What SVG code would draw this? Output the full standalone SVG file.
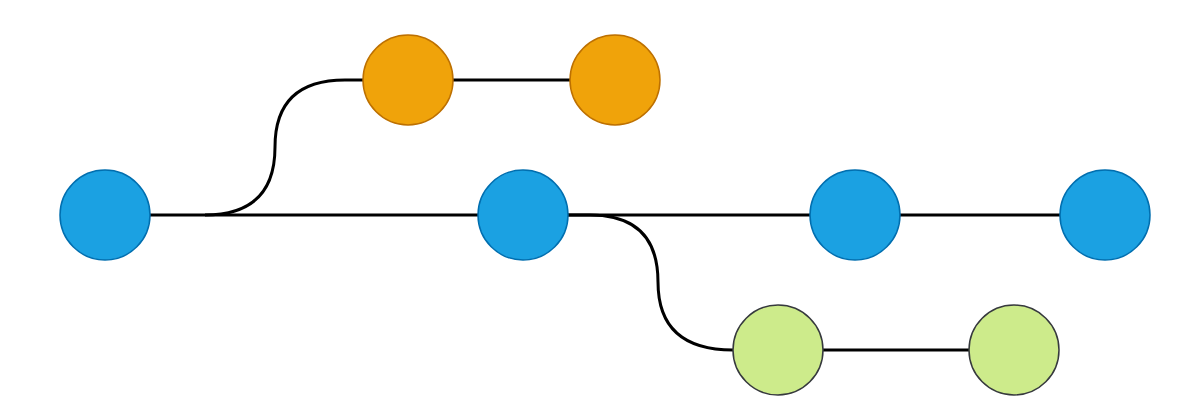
<svg xmlns="http://www.w3.org/2000/svg" width="1200" height="416" viewBox="0 0 1200 416">
<style>
.e{fill:none;stroke:#000;stroke-width:3}
.b{fill:#1ba1e2;stroke:#006eaf;stroke-width:1.5}
.o{fill:#f0a30a;stroke:#bd7000;stroke-width:1.5}
.g{fill:#cdeb8b;stroke:#36393d;stroke-width:1.5}
</style>
<rect width="1200" height="416" fill="#fff"/>
<g id="connectors">
<path class="e" d="M150,215 H1060"/>
<path class="e" d="M205,215 Q275,215 275,147 Q275,80 345,80 H570"/>
<path class="e" d="M568,215 H590 Q658,215 658,282 Q658,350 733,350 H970"/>
</g>
<g id="n1"><circle class="b" cx="105" cy="215" r="45"/></g>
<g id="n2"><circle class="b" cx="523" cy="215" r="45"/></g>
<g id="n3"><circle class="b" cx="855" cy="215" r="45"/></g>
<g id="n4"><circle class="b" cx="1105" cy="215" r="45"/></g>
<g id="o1"><circle class="o" cx="408" cy="80" r="45"/></g>
<g id="o2"><circle class="o" cx="615" cy="80" r="45"/></g>
<g id="g1"><circle class="g" cx="778" cy="350" r="45"/></g>
<g id="g2"><circle class="g" cx="1014" cy="350" r="45"/></g>
</svg>
